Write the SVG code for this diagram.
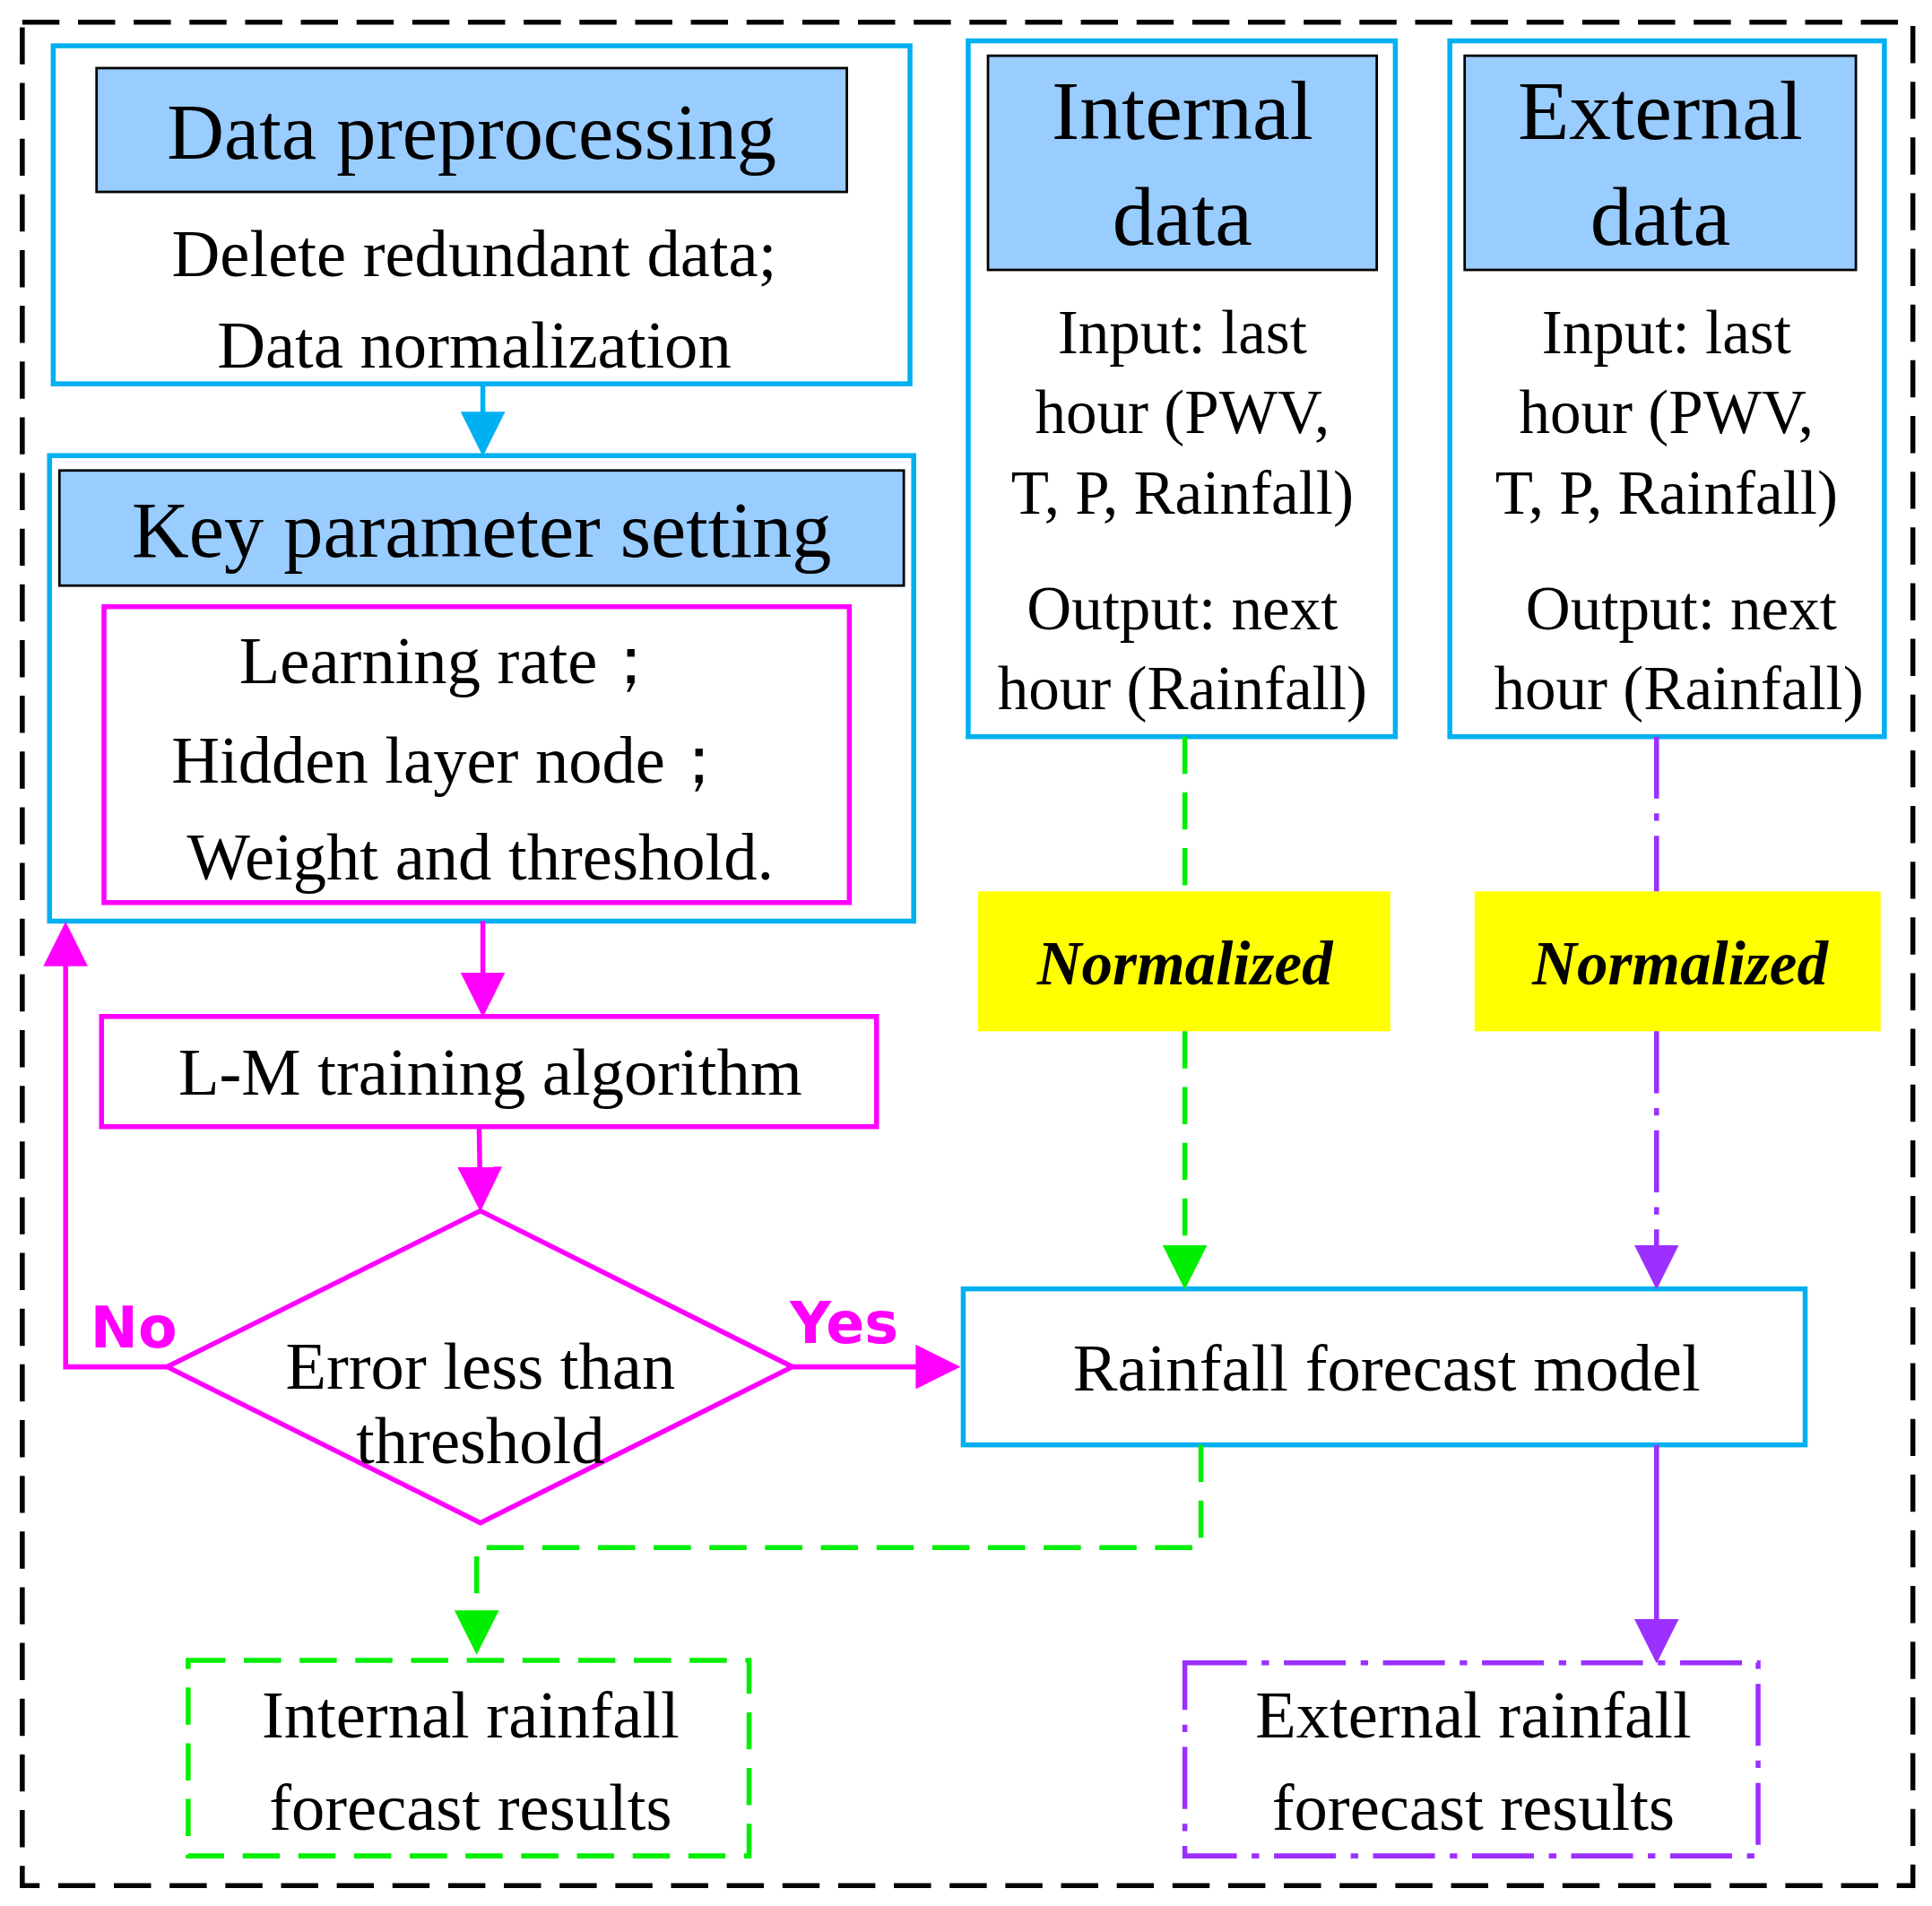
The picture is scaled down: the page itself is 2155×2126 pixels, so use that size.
<svg xmlns="http://www.w3.org/2000/svg" width="2155" height="2126" viewBox="0 0 2155 2126">
<style>
.s{font-family:"Liberation Serif",serif;fill:#000;text-anchor:middle}
.cy{fill:none;stroke:#00B0F0;stroke-width:4}
.mg{fill:none;stroke:#FF00FF;stroke-width:4}
.hd{fill:#99CCFF;stroke:#000;stroke-width:2}
.lb{font-family:"DejaVu Sans",sans-serif;font-weight:bold;fill:#FF00FF;font-size:46px}
.nm{font-family:"Liberation Serif",serif;font-weight:bold;font-style:italic;font-size:50px;text-anchor:middle}
</style>
<defs>
<marker id="ac" markerWidth="10" markerHeight="10" refX="9" refY="5" orient="auto" markerUnits="userSpaceOnUse" viewBox="0 0 10 10"><path d="M0,0L10,5L0,10z" fill="#00B0F0"/></marker>
<marker id="am" viewBox="0 0 10 10" refX="9" refY="5" markerWidth="36" markerHeight="36" orient="auto" markerUnits="userSpaceOnUse"><path d="M0,0L10,5L0,10z" fill="#FF00FF"/></marker>
<marker id="ag" viewBox="0 0 10 10" refX="9" refY="5" markerWidth="36" markerHeight="36" orient="auto" markerUnits="userSpaceOnUse"><path d="M0,0L10,5L0,10z" fill="#00EE00"/></marker>
<marker id="ap" viewBox="0 0 10 10" refX="9" refY="5" markerWidth="36" markerHeight="36" orient="auto" markerUnits="userSpaceOnUse"><path d="M0,0L10,5L0,10z" fill="#9B30FF"/></marker>
<marker id="ab" viewBox="0 0 10 10" refX="9" refY="5" markerWidth="36" markerHeight="36" orient="auto" markerUnits="userSpaceOnUse"><path d="M0,0L10,5L0,10z" fill="#00B0F0"/></marker>
</defs>
<rect width="2155" height="2126" fill="#fff"/>
<g transform="scale(1.381)">
<rect x="18" y="18" width="1527" height="1505" fill="none" stroke="#000" stroke-width="4" stroke-dasharray="30,15"/>
<g id="preproc">
<rect class="cy" x="43" y="37" width="692" height="273"/>
<rect class="hd" x="78" y="55" width="606" height="100"/>
<text class="s" x="381" y="128" font-size="64">Data preprocessing</text>
<text class="s" x="383" y="223" font-size="54">Delete redundant data;</text>
<text class="s" x="383" y="297" font-size="54">Data normalization</text>
</g>
<g id="keyparam">
<rect class="cy" x="40" y="368" width="698" height="376"/>
<rect class="hd" x="48" y="380" width="682" height="93"/>
<text class="s" x="389" y="450" font-size="64">Key parameter setting</text>
<rect class="mg" x="84" y="490" width="602" height="239"/>
<text class="s" x="365" y="552" font-size="54">Learning rate；</text>
<text class="s" x="365" y="632" font-size="54">Hidden layer node；</text>
<text class="s" x="388" y="710" font-size="54">Weight and threshold.</text>
</g>
<g id="lm">
<rect class="mg" x="82" y="821" width="626" height="89"/>
<text class="s" x="396" y="884" font-size="54">L-M training algorithm</text>
</g>
<g id="decision">
<polygon class="mg" points="388,978 640,1104 388,1230 135,1104"/>
<text class="s" x="388" y="1122" font-size="54">Error less than</text>
<text class="s" x="388" y="1182" font-size="54">threshold</text>
</g>
<g id="internal">
<rect class="cy" x="782" y="33" width="345" height="562"/>
<rect class="hd" x="798" y="45" width="314" height="173"/>
<text class="s" x="955" y="112" font-size="68">Internal</text>
<text class="s" x="955" y="198" font-size="68">data</text>
<g font-size="50"><text class="s" x="955" y="285">Input: last</text>
<text class="s" x="955" y="350">hour (PWV,</text>
<text class="s" x="955" y="415">T, P, Rainfall)</text>
<text class="s" x="955" y="508">Output: next</text>
<text class="s" x="955" y="573">hour (Rainfall)</text></g>
</g>
<g id="external">
<rect class="cy" x="1171" y="33" width="351" height="562"/>
<rect class="hd" x="1183" y="45" width="316" height="173"/>
<text class="s" x="1341" y="112" font-size="68">External</text>
<text class="s" x="1341" y="198" font-size="68">data</text>
<g font-size="50"><text class="s" x="1346" y="285">Input: last</text>
<text class="s" x="1346" y="350">hour (PWV,</text>
<text class="s" x="1346" y="415">T, P, Rainfall)</text>
<text class="s" x="1358" y="508">Output: next</text>
<text class="s" x="1356" y="573">hour (Rainfall)</text></g>
</g>
<g id="norm1"><rect x="790" y="720" width="333" height="113" fill="#FFFF00"/><text class="nm" x="957" y="795">Normalized</text></g>
<g id="norm2"><rect x="1191" y="720" width="328" height="113" fill="#FFFF00"/><text class="nm" x="1357" y="795">Normalized</text></g>
<g id="model">
<rect class="cy" x="778" y="1041" width="680" height="126"/>
<text class="s" x="1120" y="1123" font-size="54">Rainfall forecast model</text>
</g>
<g id="intres">
<rect x="152" y="1341" width="453" height="158" fill="none" stroke="#00EE00" stroke-width="4" stroke-dasharray="30,15"/>
<text class="s" x="380" y="1403" font-size="54">Internal rainfall</text>
<text class="s" x="380" y="1478" font-size="54">forecast results</text>
</g>
<g id="extres">
<rect x="957" y="1343" width="463" height="156" fill="none" stroke="#9B30FF" stroke-width="4" stroke-dasharray="50,12,6,12"/>
<text class="s" x="1190" y="1403" font-size="54">External rainfall</text>
<text class="s" x="1190" y="1478" font-size="54">forecast results</text>
</g>
<g id="connectors">
<line x1="390" y1="310" x2="390" y2="365" stroke="#00B0F0" stroke-width="4" marker-end="url(#ab)"/>
<line x1="390" y1="744" x2="390" y2="818" stroke="#FF00FF" stroke-width="4" marker-end="url(#am)"/>
<line x1="387" y1="910" x2="388" y2="975" stroke="#FF00FF" stroke-width="4" marker-end="url(#am)"/>
<polyline points="135,1104 53,1104 53,748" fill="none" stroke="#FF00FF" stroke-width="4" marker-end="url(#am)"/>
<line x1="640" y1="1104" x2="772" y2="1104" stroke="#FF00FF" stroke-width="4" marker-end="url(#am)"/>
<text class="lb" x="73" y="1088">No</text>
<text class="lb" x="638" y="1085">Yes</text>
<line x1="957" y1="595" x2="957" y2="720" stroke="#00EE00" stroke-width="4" stroke-dasharray="30,15"/>
<line x1="957" y1="833" x2="957" y2="1038" stroke="#00EE00" stroke-width="4" stroke-dasharray="30,15" marker-end="url(#ag)"/>
<line x1="1338" y1="595" x2="1338" y2="720" stroke="#9B30FF" stroke-width="4" stroke-dasharray="50,12,6,12"/>
<line x1="1338" y1="833" x2="1338" y2="1038" stroke="#9B30FF" stroke-width="4" stroke-dasharray="50,12,6,12" marker-end="url(#ap)"/>
<polyline points="970,1167 970,1250 385,1250 385,1333" fill="none" stroke="#00EE00" stroke-width="4" stroke-dasharray="30,15" marker-end="url(#ag)"/>
<line x1="1338" y1="1167" x2="1338" y2="1340" stroke="#9B30FF" stroke-width="4" marker-end="url(#ap)"/>
</g>
</g>
</svg>
